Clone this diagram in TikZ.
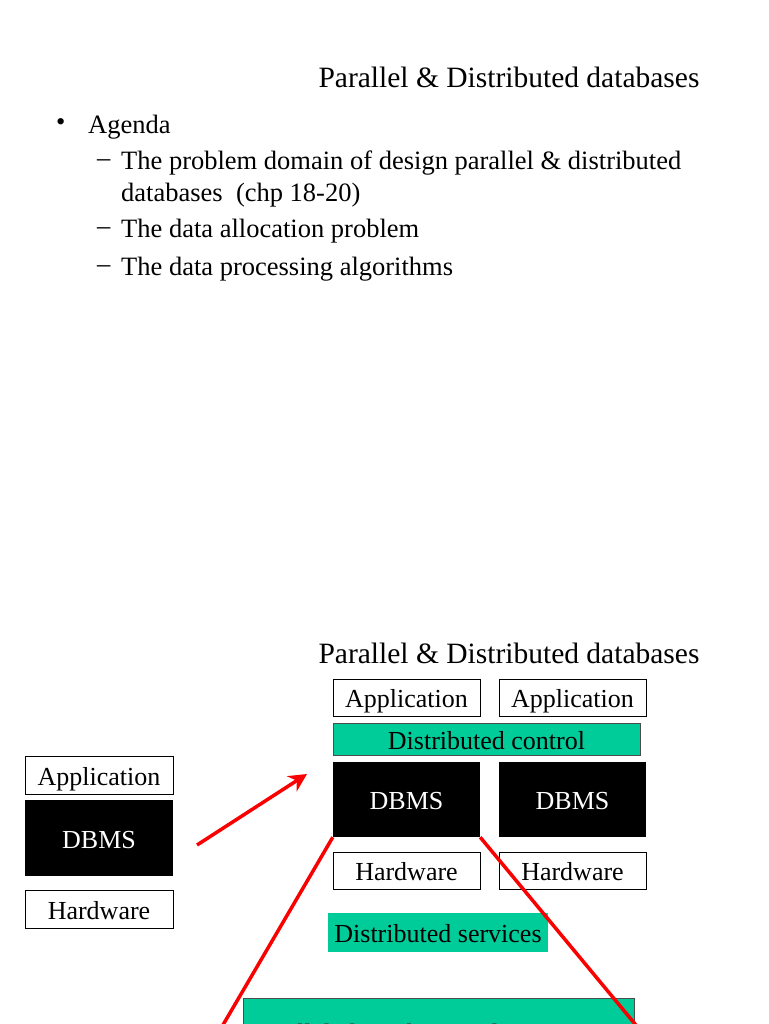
\documentclass[tikz,border=0pt]{standalone}
\usepackage{fontspec}
\usetikzlibrary{arrows.meta}
\setmainfont{Liberation Serif}
\definecolor{grn}{RGB}{0,204,153}
\definecolor{red1}{RGB}{250,0,0}
\begin{document}
\begin{tikzpicture}[x=1pt,y=-1pt,
  bx/.style={inner sep=0pt,font=\fontsize{26}{30}\selectfont,text height=20pt,text depth=0pt},
  wbox/.style={bx,draw=black,line width=0.8pt,fill=white},
  bbox/.style={bx,fill=black,text=white},
  gbox/.style={bx,fill=grn},
  txt/.style={anchor=west,inner sep=0pt,font=\fontsize{26.5}{30}\selectfont},
  redl/.style={draw=red1,line width=3.5pt}]
\useasboundingbox (0,0) rectangle (768,1024);
\clip (0,0) rectangle (768,1024);
\node[font=\fontsize{29.5}{32}\selectfont] (t1) at (509,77) {Parallel \& Distributed databases};
\node[txt] (b0) at (56,125) {•};
\node[txt] (a) at (88,127) {Agenda};
\node[txt] (d1) at (97,163) {–};
\node[txt] (l1) at (121,163) {The problem domain of design parallel \& distributed};
\node[txt] (l1b) at (121,195) {databases~ (chp 18-20)};
\node[txt] (d2) at (97,231) {–};
\node[txt] (l2) at (121,231) {The data allocation problem};
\node[txt] (d3) at (97,269) {–};
\node[txt] (l3) at (121,269) {The data processing algorithms};
\node[font=\fontsize{29.5}{32}\selectfont] (t2) at (509,653) {Parallel \& Distributed databases};
\node[wbox,minimum width=147,minimum height=37] (app1) at (406.5,697.5) {Application};
\node[wbox,minimum width=147,minimum height=37] (app2) at (572.5,697.5) {Application};
\node[gbox,draw=black!70,minimum width=307,minimum height=32] (dc) at (486.5,739) {Distributed control};
\node[bbox,minimum width=147,minimum height=75] (db1) at (406.5,799.5) {DBMS};
\node[bbox,minimum width=147,minimum height=75] (db2) at (572.5,799.5) {DBMS};
\node[wbox,minimum width=147,minimum height=37] (hw1) at (406.5,870.5) {Hardware};
\node[wbox,minimum width=147,minimum height=37] (hw2) at (572.5,870.5) {Hardware};
\node[gbox,minimum width=220,minimum height=39] (ds) at (438,932.5) {Distributed services};
\node[gbox,draw=black!70,line width=0.8pt,minimum width=391,minimum height=70,anchor=north west] (pb) at (243,998) {};
\node[txt] (pt) at (250,1036) {Parallel algorithms \& data structures};
\node[wbox,minimum width=148,minimum height=38] (app0) at (99,775) {Application};
\node[bbox,minimum width=148,minimum height=76] (db0) at (99,838) {DBMS};
\node[wbox,minimum width=148,minimum height=38] (hw0) at (99,909) {Hardware};
\coordinate (as) at (197,845);
\coordinate (ae) at (307,774);
\draw[redl,-{Stealth[length=18pt,width=18pt]}] (as) -- (ae);
\coordinate (l1e) at (220,1030);
\coordinate (l2e) at (640,1030);
\draw[redl] (db1.south west) -- (l1e);
\draw[redl] (db1.south east) -- (l2e);
\end{tikzpicture}
\end{document}
